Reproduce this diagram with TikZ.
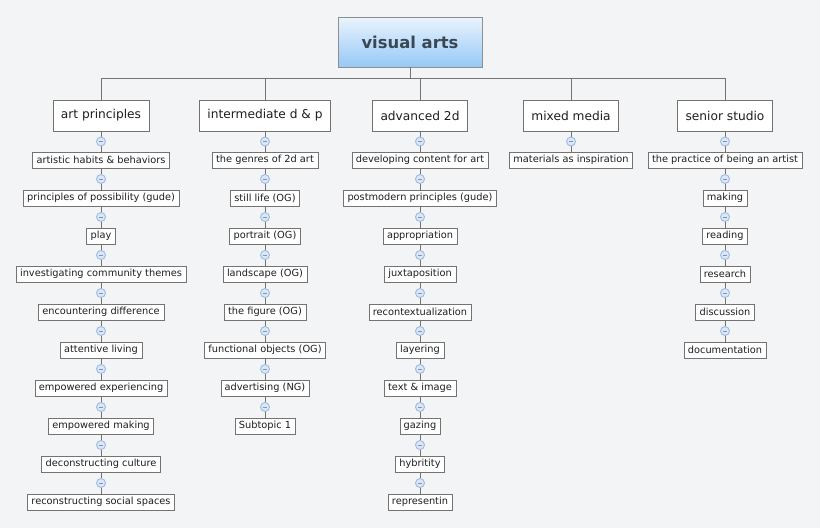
\documentclass[tikz,border=0pt]{standalone}
\usepackage{fontspec}
\setmainfont{DejaVu Sans}
\usetikzlibrary{positioning,calc}
\definecolor{bg}{RGB}{243,244,246}
\definecolor{ln}{RGB}{115,115,115}
\definecolor{tx}{RGB}{30,30,30}
\definecolor{rtop}{RGB}{234,244,253}
\definecolor{rbot}{RGB}{150,200,247}
\definecolor{rtx}{RGB}{58,72,84}
\definecolor{cfill}{RGB}{218,231,248}
\definecolor{cdraw}{RGB}{160,186,224}
\tikzset{
    root/.style =   {rectangle,
                    top color=rtop,
                    bottom color=rbot,
                    draw=ln!80,
                    text=rtx,
                    font=\fontsize{16.4}{18}\selectfont\bfseries,
                    minimum width=144pt,
                    minimum height=50pt},
    main/.style =   {rectangle,
                    fill=white,
                    draw=ln,
                    text=tx,
                    font=\fontsize{12.2}{14}\selectfont,
                    inner xsep=8pt,
                    minimum height=31pt},
    sub/.style =    {rectangle,
                    fill=white,
                    draw=ln,
                    text=tx,
                    font=\fontsize{9.8}{11}\selectfont,
                    inner xsep=4pt,
                    inner ysep=0pt,
                    minimum height=16pt},
    collapse/.style={circle,
                    fill=cfill,
                    draw=cdraw,
                    inner sep=0pt,
                    minimum size=9pt,
                    path picture={\draw[cdraw!80!black,line width=0.8pt]
                        ([xshift=-2.2pt]path picture bounding box.center) --
                        ([xshift=2.2pt]path picture bounding box.center);}},
    link/.style =   {draw=ln, line width=0.9pt},
    node distance=38pt}

\begin{document}
\begin{tikzpicture}[x=1pt,y=1pt]
    \fill[bg] (0,0) rectangle (820,-528);
    \useasboundingbox (0,0) rectangle (820,-528);

    \node[root]  (va)  at (410,-42)    {visual arts};
    \node[main]  (ap)  at (101,-115.5) {art principles};
    \node[main]  (id)  at (265,-115.5) {intermediate d \& p};
    \node[main]  (ad)  at (420,-115.5) {advanced 2d};
    \node[main]  (mm)  at (571,-115.5) {mixed media};
    \node[main]  (ss)  at (725,-115.5) {senior studio};

    % art principles
    \node[sub]  (ap1)  [below of=ap,node distance=44.5pt]  {artistic habits \& behaviors};
    \node[sub]  (ap2)  [below of=ap1]  {principles of possibility (gude)};
    \node[sub]  (ap3)  [below of=ap2]  {play};
    \node[sub]  (ap4)  [below of=ap3]  {investigating community themes};
    \node[sub]  (ap5)  [below of=ap4]  {encountering difference};
    \node[sub]  (ap6)  [below of=ap5]  {attentive living};
    \node[sub]  (ap7)  [below of=ap6]  {empowered experiencing};
    \node[sub]  (ap8)  [below of=ap7]  {empowered making};
    \node[sub]  (ap9)  [below of=ap8]  {deconstructing culture};
    \node[sub]  (ap10) [below of=ap9]  {reconstructing social spaces};

    % intermediate d & p
    \node[sub]  (id1)  [below of=id,node distance=44.5pt]  {the genres of 2d art};
    \node[sub]  (id2)  [below of=id1]  {still life (OG)};
    \node[sub]  (id3)  [below of=id2]  {portrait (OG)};
    \node[sub]  (id4)  [below of=id3]  {landscape (OG)};
    \node[sub]  (id5)  [below of=id4]  {the figure (OG)};
    \node[sub]  (id6)  [below of=id5]  {functional objects (OG)};
    \node[sub]  (id7)  [below of=id6]  {advertising (NG)};
    \node[sub]  (id8)  [below of=id7]  {Subtopic 1};

    % advanced 2d
    \node[sub]  (ad1)  [below of=ad,node distance=44.5pt]  {developing content for art};
    \node[sub]  (ad2)  [below of=ad1]  {postmodern principles (gude)};
    \node[sub]  (ad3)  [below of=ad2]  {appropriation};
    \node[sub]  (ad4)  [below of=ad3]  {juxtaposition};
    \node[sub]  (ad5)  [below of=ad4]  {recontextualization};
    \node[sub]  (ad6)  [below of=ad5]  {layering};
    \node[sub]  (ad7)  [below of=ad6]  {text \& image};
    \node[sub]  (ad8)  [below of=ad7]  {gazing};
    \node[sub]  (ad9)  [below of=ad8]  {hybritity};
    \node[sub]  (ad10) [below of=ad9]  {representin};

    % mixed media
    \node[sub]  (mm1)  [below of=mm,node distance=44.5pt]  {materials as inspiration};

    % senior studio
    \node[sub]  (ss1)  [below of=ss,node distance=44.5pt]  {the practice of being an artist};
    \node[sub]  (ss2)  [below of=ss1]  {making};
    \node[sub]  (ss3)  [below of=ss2]  {reading};
    \node[sub]  (ss4)  [below of=ss3]  {research};
    \node[sub]  (ss5)  [below of=ss4]  {discussion};
    \node[sub]  (ss6)  [below of=ss5]  {documentation};

    % root to topics
    \coordinate (bar) at ($(va.south)+(0,-11)$);
    \draw[link] (va.south) -- (bar);
    \draw[link] (ap.north) |- (bar) -| (ss.north);
    \draw[link] (id.north) -- (id.north |- bar);
    \draw[link] (ad.north) -- (ad.north |- bar);
    \draw[link] (mm.north) -- (mm.north |- bar);

    \path [link]  (ap)  edge node [collapse] {} (ap1)
                  (ap1) edge node [collapse] {} (ap2)
                  (ap2) edge node [collapse] {} (ap3)
                  (ap3) edge node [collapse] {} (ap4)
                  (ap4) edge node [collapse] {} (ap5)
                  (ap5) edge node [collapse] {} (ap6)
                  (ap6) edge node [collapse] {} (ap7)
                  (ap7) edge node [collapse] {} (ap8)
                  (ap8) edge node [collapse] {} (ap9)
                  (ap9) edge node [collapse] {} (ap10)
                  (id)  edge node [collapse] {} (id1)
                  (id1) edge node [collapse] {} (id2)
                  (id2) edge node [collapse] {} (id3)
                  (id3) edge node [collapse] {} (id4)
                  (id4) edge node [collapse] {} (id5)
                  (id5) edge node [collapse] {} (id6)
                  (id6) edge node [collapse] {} (id7)
                  (id7) edge node [collapse] {} (id8)
                  (ad)  edge node [collapse] {} (ad1)
                  (ad1) edge node [collapse] {} (ad2)
                  (ad2) edge node [collapse] {} (ad3)
                  (ad3) edge node [collapse] {} (ad4)
                  (ad4) edge node [collapse] {} (ad5)
                  (ad5) edge node [collapse] {} (ad6)
                  (ad6) edge node [collapse] {} (ad7)
                  (ad7) edge node [collapse] {} (ad8)
                  (ad8) edge node [collapse] {} (ad9)
                  (ad9) edge node [collapse] {} (ad10)
                  (mm)  edge node [collapse] {} (mm1)
                  (ss)  edge node [collapse] {} (ss1)
                  (ss1) edge node [collapse] {} (ss2)
                  (ss2) edge node [collapse] {} (ss3)
                  (ss3) edge node [collapse] {} (ss4)
                  (ss4) edge node [collapse] {} (ss5)
                  (ss5) edge node [collapse] {} (ss6);
\end{tikzpicture}
\end{document}
